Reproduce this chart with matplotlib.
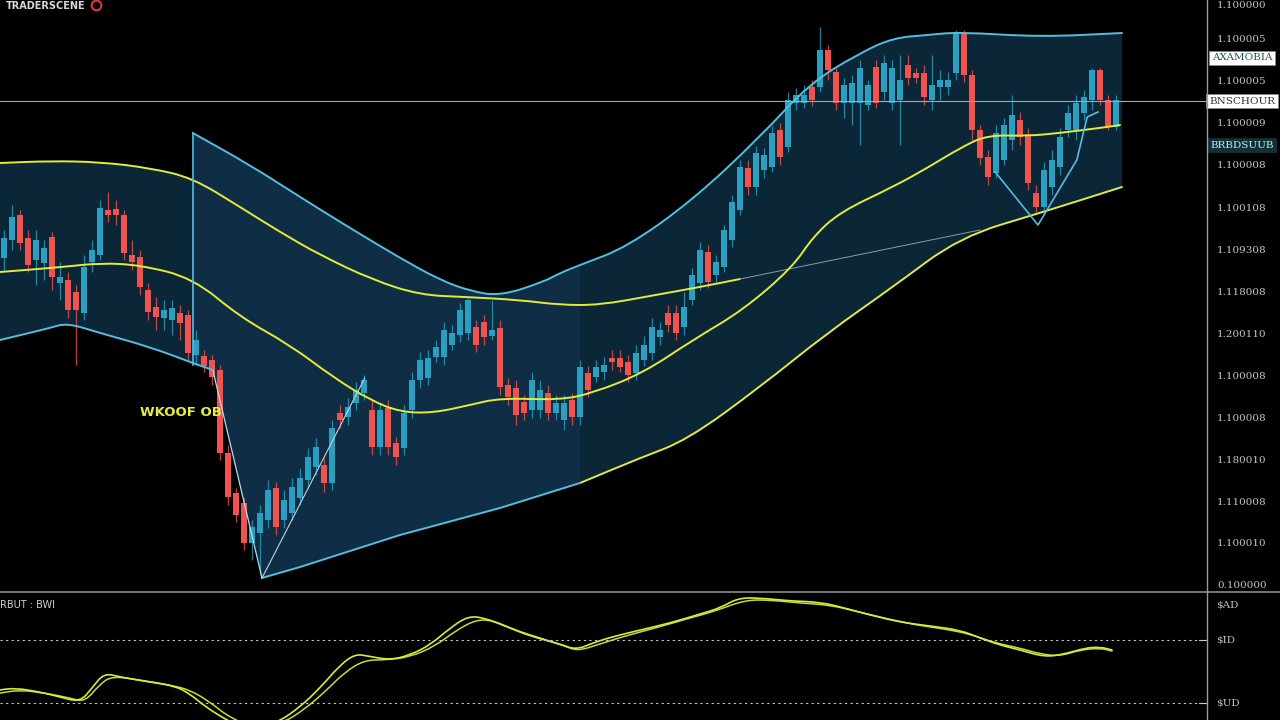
import matplotlib
matplotlib.use("Agg")
import matplotlib.pyplot as plt
import matplotlib.transforms as mtransforms
from matplotlib.lines import Line2D
from matplotlib.path import Path
from matplotlib.patches import PathPatch
import numpy as np

# ---------------- candle data (arbitrary price units) ----------------
opens = [742,760,785,762,740,737,763,717,720,708,
         687,738,745,790,791,785,745,743,710,693,
         682,680,687,685,645,644,640,630,547,507,
         497,457,467,480,512,480,487,502,520,533,
         535,517,587,583,597,607,590,553,592,557,
         552,590,620,622,643,643,655,665,667,673,
         678,664,672,615,612,598,590,590,607,587,
         580,600,583,627,623,628,642,642,638,627,
         640,647,663,687,687,673,700,717,748,725,
         733,760,790,832,813,830,833,870,853,897,
         897,913,913,950,928,897,897,897,895,933,
         908,897,900,935,927,927,900,913,913,927,
         967,925,870,843,827,840,860,880,865,807,
         793,813,833,870,870,887,900,930,900,873]
closes = [762,783,757,735,760,752,723,723,690,690,
          733,750,792,785,785,747,738,713,688,683,
          690,692,677,647,660,634,623,547,503,485,
          457,473,487,510,473,500,513,522,543,553,
          517,572,580,593,610,620,553,590,553,543,
          587,620,640,642,653,670,667,690,700,655,
          663,670,613,603,585,587,620,610,587,597,
          597,583,633,610,633,635,638,633,625,647,
          655,673,670,675,667,693,725,750,718,738,
          770,798,833,813,847,845,867,843,900,905,
          905,900,950,930,897,915,917,932,915,897,
          937,932,920,922,922,903,915,920,920,967,
          925,870,842,823,867,875,885,863,817,793,
          830,840,863,887,897,903,930,900,873,900]
highs = [770,795,790,770,770,760,768,738,728,715,
         745,760,800,808,800,790,760,750,717,703,
         700,700,695,690,670,650,645,635,555,512,
         502,480,495,520,518,510,522,532,552,562,
         542,580,595,602,618,625,600,598,600,563,
         595,628,648,650,660,678,675,697,702,680,
         685,700,680,622,620,605,628,620,615,605,
         605,607,640,634,640,643,650,650,645,655,
         664,682,678,695,695,708,732,758,755,745,
         775,805,840,840,854,852,874,877,908,912,
         915,920,973,955,932,922,925,940,920,940,
         945,940,945,945,932,935,945,930,928,970,
         970,930,875,850,875,882,905,888,872,815,
         838,850,872,895,905,910,932,932,905,905]
lows = [730,750,750,728,715,720,710,700,682,635,
        680,728,740,778,775,740,730,705,680,670,
        670,665,660,640,635,628,615,540,495,478,
        450,440,425,472,465,472,480,495,512,525,
        508,510,572,575,590,600,545,545,545,535,
        545,582,612,615,638,635,650,658,660,648,
        655,660,605,595,575,580,582,582,580,580,
        570,575,575,603,618,620,630,628,618,620,
        634,640,655,668,660,665,695,710,712,718,
        728,753,785,805,805,822,828,835,848,890,
        892,894,908,920,890,882,875,855,890,892,
        900,890,855,915,917,895,890,900,905,920,
        918,860,835,815,822,835,850,855,810,788,
        790,805,825,863,860,880,890,895,870,870]

# ---------------- indicator / band lines (bar index, price) ----------------
upper_yellow_x = [-0.5, 5.75, 12, 18.25, 23.6, 29.5, 34.5, 39.5, 46.1, 52, 57.75, 64.5, 69.5, 74.5, 80.75, 87, 92]
upper_yellow_y = [837, 839, 838, 832, 822, 793, 768, 745, 720, 705, 703, 700, 695, 695, 704, 713, 721]
faint_x = [92, 122]
faint_y = [721, 770]
mid_yellow_x = [-0.5, 7.4, 12, 17, 23.6, 29.5, 35.75, 41.1, 45.75, 49.5, 53.6, 58.25, 62, 69.5, 73.6,
                79.9, 86.1, 92.4, 98.6, 101.1, 104.5, 111.1, 115.4, 119.5, 122.9, 127.9, 132, 137.9, 139.5]
mid_yellow_y = [728, 733, 737, 735, 722, 683, 655, 623, 600, 588, 587, 595, 602, 600, 607,
                627, 660, 690, 733, 763, 788, 813, 832, 852, 865, 864, 867, 873, 875]
low_yellow_x = [72, 79.5, 85.4, 94.5, 102.9, 111.1, 119.5, 129.5, 139.75]
low_yellow_y = [517, 542, 560, 613, 667, 713, 763, 787, 813]
upper_cyan_x = [23.6, 30.75, 37, 43.25, 49.5, 54.5, 58.25, 62, 67.4, 69.5, 72, 77.9, 86.1, 94.5,
                100.75, 107, 111.1, 115.4, 119.5, 129.5, 139.75]
upper_cyan_y = [867, 835, 803, 772, 742, 720, 709, 704, 718, 727, 735, 753, 800, 863,
                917, 947, 962, 965, 968, 963, 967]
lower_edge_x = [23.6, 26.1, 32.25, 37, 49.5, 62, 72]
lower_edge_y = [635, 630, 422, 433, 465, 492, 517]
left_cyan_x = [-0.5, 5.75, 7.9, 12, 18.25, 23.6, 26.1]
left_cyan_y = [660, 672, 677, 667, 653, 637, 630]
trend_x = [32.25, 45.1]
trend_y = [422, 622]
v_x = [123.9, 129.25, 134.1, 135.4, 136.75]
v_y = [828, 775, 840, 883, 888]
level_price = 899

tick_values = [994, 960, 918, 876, 834, 792, 750, 708, 666, 624, 582, 540, 498, 456, 414]
tick_labels = ["1.100000", "1.100005", "1.100005", "1.100009", "1.100008", "1.100108",
               "1.109308", "1.118008", "1.200110", "1.100008", "1.100008", "1.180010",
               "1.110008", "1.100010", "0.100000"]
box_values = [942, 899, 855]
box_labels = ["AXAMOBIA", "BNSCHOUR", "BRBDSUUB"]

# ---------------- oscillator ----------------
osc_a_x = [-0.5, 1.4, 4.5, 7, 9.5, 11, 12.5, 14.5, 18.25, 21.4, 23.25, 25.1, 27, 29.5, 32, 34.5, 37,
           39.5, 42, 43.9, 45.5, 48.25, 50.75, 53.25, 55.75, 58, 60.1, 62.6, 65.75, 69.5, 71.5, 73.9,
           76.4, 79.5, 83.25, 87, 89.5, 91.75, 94.5, 98.25, 102, 105.1, 108.25, 112, 115.75, 119.5,
           122, 124.5, 127, 130.1, 132.6, 135.1, 137, 138.5]
osc_a_y = [38.3, 39.5, 37, 33.8, 30.6, 39.5, 49, 46.5, 43.3, 40.8, 35.7, 28, 21.7, 14.7, 13.5, 18.6, 27.5,
           39.5, 54.1, 61.1, 59.8, 57.3, 60.5, 66.8, 77.6, 85.2, 84, 78.9, 72.5, 67.5, 63.7, 68.7,
           72.5, 76.3, 80.8, 86.5, 90.3, 96.7, 96.7, 94.8, 94.1, 90.3, 85.9, 81.4, 78.9, 76.3,
           71.3, 66.8, 63.7, 59.2, 61.1, 64.9, 65.6, 63.7]
osc_b_x = [-0.5, 2, 5.1, 8.25, 10.1, 12, 13.5, 17, 20.75, 23.25, 25.75, 28.25, 32, 35.1, 37.6, 40.1,
           42.6, 45.1, 47.6, 50.75, 53.9, 56.4, 58.9, 61, 63.9, 67, 70.1, 71.75, 74.5, 77.6, 81.4,
           85.75, 88.9, 92.6, 95.75, 99.5, 103.25, 106.4, 109.5, 113.25, 117.6, 120.75, 123.9,
           127, 129.5, 132, 134.5, 137, 138.5]
osc_b_y = [36.3, 38.3, 36.3, 33.2, 30.6, 42, 47.1, 44.6, 41.4, 38.3, 30.6, 20.5, 12.9, 17.9, 26.2, 37,
           49.7, 57.3, 57.3, 59.2, 66.2, 75.7, 82.7, 82.7, 76.3, 71.3, 66.2, 63, 67.5, 72.5, 77.6,
           84, 88.4, 95.4, 95.4, 93.5, 92.2, 88.4, 84.6, 80.2, 77, 73.8, 68.1,
           64.9, 61.1, 59.8, 63.7, 64.9, 63]
osc_levels = [70, 30]
osc_label_values = [92, 70, 30]
osc_labels = ["$AD", "$ID", "$UD"]

# ---------------- styling ----------------
RED = "#f0524e"
TEAL = "#2a9fc0"
YEL = "#e2ec3a"
CYAN = "#55bde0"
SHADE_L = "#0f2e45"
SHADE_R = "#0b2637"


def smooth_parts(xs, ys):
    """Vertices/codes of a quadratic-Bezier rendering through the knot polygon."""
    p = np.column_stack([np.asarray(xs, float), np.asarray(ys, float)])
    n = len(p)
    verts = [p[0]]
    codes = [Path.MOVETO]
    if n <= 2:
        verts.append(p[-1])
        codes.append(Path.LINETO)
        return verts, codes
    verts.append((p[0] + p[1]) / 2)
    codes.append(Path.LINETO)
    for i in range(1, n - 1):
        verts += [p[i], (p[i] + p[i + 1]) / 2]
        codes += [Path.CURVE3, Path.CURVE3]
    verts.append(p[-1])
    codes.append(Path.LINETO)
    return verts, codes


def smooth_line(ax, xs, ys, **kw):
    v, c = smooth_parts(xs, ys)
    ax.add_patch(PathPatch(Path(v, c), fill=False, capstyle="round", **kw))


def straight_parts(xs, ys):
    v = list(np.column_stack([xs, ys]).astype(float))
    return v, [Path.MOVETO] + [Path.LINETO] * (len(v) - 1)


def fill_between_paths(ax, top, bottom, color):
    v1, c1 = top
    v2, c2 = bottom
    c2 = list(c2)
    c2[0] = Path.LINETO
    verts = list(v1) + list(v2) + [v1[0]]
    codes = list(c1) + c2 + [Path.CLOSEPOLY]
    ax.add_patch(PathPatch(Path(verts, codes), fc=color, ec="none", lw=0, zorder=1))


def sel(xs, ys, lo, hi):
    xs = np.asarray(xs, float)
    ys = np.asarray(ys, float)
    m = (xs >= lo) & (xs <= hi)
    return xs[m], ys[m]


fig = plt.figure(figsize=(12.8, 7.2), dpi=100, facecolor="black")
ax = fig.add_axes([0, 128 / 720, 1207 / 1280, 592 / 720])
ax.set_facecolor("black")
ax.set_xlim(-0.5, 150.375)
ax.set_ylim(408, 1000)
ax.axis("off")

# left band shade
tx, ty = sel(upper_yellow_x, upper_yellow_y, -1, 23.6)
bx, by = sel(left_cyan_x, left_cyan_y, -1, 23.6)
fill_between_paths(ax, smooth_parts(tx, ty), smooth_parts(bx[::-1], by[::-1]), SHADE_R)

# big polygon, left part
tx, ty = sel(upper_cyan_x, upper_cyan_y, 23.6, 72)
fill_between_paths(ax, smooth_parts(tx, ty),
                   straight_parts(lower_edge_x[::-1], lower_edge_y[::-1]), SHADE_L)
# big polygon, right part
tx, ty = sel(upper_cyan_x, upper_cyan_y, 72, 140)
fill_between_paths(ax, smooth_parts(tx, ty),
                   smooth_parts(low_yellow_x[::-1], low_yellow_y[::-1]), SHADE_R)

# candles
for i, (o, h, l, c) in enumerate(zip(opens, highs, lows, closes)):
    col = TEAL if c >= o else RED
    ax.vlines(i, l, h, color=col, lw=0.9, alpha=0.8, zorder=3)
    ax.bar(i, max(abs(c - o), 2), bottom=min(o, c), width=0.72, color=col, lw=0, zorder=3)

# lines
lk = dict(lw=1.4, zorder=4)
smooth_line(ax, upper_yellow_x, upper_yellow_y, ec=YEL, **lk)
ax.plot(faint_x, faint_y, color="#8d9ba0", lw=0.7, zorder=4)
smooth_line(ax, mid_yellow_x, mid_yellow_y, ec=YEL, **lk)
smooth_line(ax, low_yellow_x, low_yellow_y, ec=YEL, **lk)
smooth_line(ax, upper_cyan_x, upper_cyan_y, ec=CYAN, **lk)
ax.plot(lower_edge_x[2:], lower_edge_y[2:], color=CYAN, lw=1.4, zorder=4)
ax.plot(lower_edge_x[1:3], lower_edge_y[1:3], color="#b9dce8", lw=0.9, zorder=4)
smooth_line(ax, left_cyan_x, left_cyan_y, ec=CYAN, **lk)
ax.plot([upper_cyan_x[0], upper_cyan_x[0]], [upper_cyan_y[0], lower_edge_y[0]], color=CYAN, lw=1.2, zorder=4)
ax.plot(trend_x, trend_y, color="#bcd3dc", lw=0.8, zorder=4)
ax.plot(v_x, v_y, color=CYAN, lw=1.2, zorder=4)
ax.axhline(level_price, color="#a8a8a8", lw=0.8, zorder=5)

# right price labels
tr = mtransforms.blended_transform_factory(ax.transAxes, ax.transData)
lab_x = 1242 / 1207
for v, s in zip(tick_values, tick_labels):
    ax.text(lab_x, v, s, transform=tr, ha="center", va="center", fontsize=7.5,
            color="#c4c4c4", family="DejaVu Serif", clip_on=False)
box_styles = [("#ffffff", "#1d5560"), ("#ffffff", "#333333"), ("#123038", "#bdeef0")]
for v, s, (fc, tc) in zip(box_values, box_labels, box_styles):
    ax.text(lab_x, v, s, transform=tr, ha="center", va="center", fontsize=7.5,
            color=tc, family="DejaVu Serif", clip_on=False,
            bbox=dict(boxstyle="square,pad=0.25", fc=fc, ec="#888888" if fc == "#ffffff" else fc, lw=0.6))

# oscillator panel
ax2 = fig.add_axes([0, 0, 1207 / 1280, 128 / 720])
ax2.set_facecolor("black")
ax2.set_xlim(-0.5, 150.375)
ax2.set_ylim(19.2, 100.5)
ax2.axis("off")
for lv in osc_levels:
    ax2.axhline(lv, color="#c8c8c8", lw=0.8, ls=(0, (2, 3)))
smooth_line(ax2, osc_b_x, osc_b_y, ec="#c6dc36", lw=1.1)
smooth_line(ax2, osc_a_x, osc_a_y, ec="#d8ea3c", lw=1.2)
tr2 = mtransforms.blended_transform_factory(ax2.transAxes, ax2.transData)
for v, s in zip(osc_label_values, osc_labels):
    ax2.text(1216 / 1207, v, s, transform=tr2, ha="left", va="center", fontsize=7.5,
             color="#c4c4c4", family="DejaVu Serif", clip_on=False)
for v in osc_levels:
    ax2.plot([1199 / 1207, 1.0], [v, v], transform=tr2, color="#c8c8c8", lw=0.8, clip_on=False)
ax2.text(0.0, 92, "RBUT : BWI", transform=tr2, ha="left", va="center", fontsize=7,
         color="#d0d0d0", clip_on=False)

# frame lines
fig.add_artist(Line2D([0, 1], [128 / 720, 128 / 720], transform=fig.transFigure, color="#8c8c8c", lw=1.2))
fig.add_artist(Line2D([1207 / 1280, 1207 / 1280], [0, 1], transform=fig.transFigure, color="#9a9a9a", lw=1.0))

# annotations
fig.text(6 / 1280, 1 - 1 / 720, "TRADERSCENE", ha="left", va="top", fontsize=7,
         fontweight="bold", color="#d8d8d8")
fig.add_artist(Line2D([96 / 1280], [1 - 5 / 720], marker="o", markersize=7, mfc="none",
                      mec="#e03535", mew=1.5, transform=fig.transFigure))
fig.text(140 / 1280, 1 - 412 / 720, "WKOOF OB", ha="left", va="center", fontsize=9.5,
         fontweight="bold", color="#e4ee3c")

fig.savefig("out.png", dpi=100, facecolor="black")
